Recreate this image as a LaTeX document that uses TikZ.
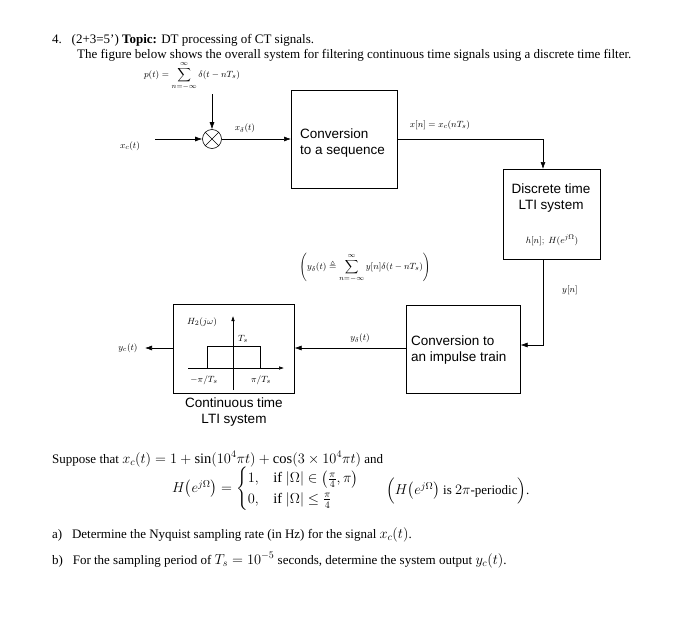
\documentclass[tikz,border=0pt]{standalone}
\usepackage{amsmath,amssymb}
\usepackage{fontspec}
\setmainfont{Liberation Serif}
\newfontfamily\sansf{Liberation Sans}
\usetikzlibrary{arrows.meta}
\begin{document}
\begin{tikzpicture}[x=1pt,y=-1pt,
  box/.style={draw,line width=0.6pt,inner sep=0pt,anchor=north west},
  btxt/.style={font=\sansf\fontsize{13.5}{16}\selectfont,align=left,inner sep=0pt},
  lab/.style={font=\fontsize{9.5}{11}\selectfont,inner sep=1pt},
  ar/.style={-{Latex[length=7pt,width=5pt]},line width=0.6pt},
  ln/.style={line width=0.6pt},
  txt/.style={font=\fontsize{13}{15}\selectfont,anchor=west,inner sep=0pt},
  mtxt/.style={font=\fontsize{14.5}{17}\selectfont,anchor=west,inner sep=0pt}]
\useasboundingbox (0,0) rectangle (680,616);
\node[txt] (t1) at (52,40) {4.\enspace\ (2+3=5')\ \textbf{Topic:} DT processing of CT signals.};
\node[txt] (t2) at (77,55) {The figure below shows the overall system for filtering continuous time signals using a discrete time filter.};
\node[lab] (p) at (192,76) {$p(t)=\displaystyle\sum_{n=-\infty}^{\infty}\delta(t-nT_s)$};
% multiplier
\node[draw,circle,minimum size=19pt,inner sep=0pt,line width=0.6pt] (m) at (212,139) {};
\draw[ln] (m.north west)--(m.south east) (m.north east)--(m.south west);
\coordinate (ptop) at (212,94);
\draw[ar] (ptop)--(m.north);
\node[lab] (xc) at (130,146) {$x_c(t)$};
\coordinate (xin) at (155,139);
\draw[ar] (xin)--(m.west);
\node[box,minimum width=106pt,minimum height=98pt] (b1) at (291,90) {};
\node[btxt,anchor=west] (b1t) at (300,143) {Conversion\\to a sequence};
\draw[ar] (m.east)--(b1.west|-m);
\node[lab] (xd) at (245,128) {$x_\delta(t)$};
\node[box,minimum width=97pt,minimum height=90pt] (b2) at (503,169) {};
\node[btxt,align=center] (b2t) at (551,198) {Discrete time\\LTI system};
\node[lab] (hn) at (552,240) {$h[n];\ H(e^{j\Omega})$};
\draw[ar] (b1.east|-m) -| (b2.north-|543,0);
\node[lab] (xn) at (440,125) {$x[n]=x_c(nT_s)$};
\node[box,minimum width=114pt,minimum height=88pt] (b3) at (406,305) {};
\node[btxt,anchor=west] (b3t) at (411,350) {Conversion to\\an impulse train};
\draw[ar] (b2.south-|543,0) |- (b3.east|-0,345);
\node[lab] (yn) at (570,290) {$y[n]$};
\node[lab] (yd) at (365,268) {$\left(y_\delta(t)\triangleq\displaystyle\sum_{n=-\infty}^{\infty}y[n]\delta(t-nT_s)\right)$};
\node[box,minimum width=121pt,minimum height=89pt] (b4) at (173,304) {};
\draw[ar] (b3.west|-0,348) -- (b4.east|-0,348);
\node[lab] (yd2) at (360,338) {$y_\delta(t)$};
\coordinate (yout) at (145,348);
\draw[ar] (b4.west|-0,348) -- (yout);
\node[lab] (yc) at (128,348) {$y_c(t)$};
% graph
\coordinate (ha0) at (188,368); \coordinate (ha1) at (284,368);
\coordinate (va0) at (233,390); \coordinate (va1) at (233,316);
\draw[-{Latex[length=5pt,width=3.5pt]},line width=0.5pt] (ha0)--(ha1);
\draw[-{Latex[length=5pt,width=3.5pt]},line width=0.5pt] (va0)--(va1);
\draw[line width=0.6pt] (207,368)--(207,346)--(260,346)--(260,368);
\node[lab] (h2) at (202,322) {$H_2(j\omega)$};
\node[lab] (ts) at (243,339) {$T_s$};
\node[lab] (mpi) at (204,380) {$-\pi/T_s$};
\node[lab] (ppi) at (261,380) {$\pi/T_s$};
\node[btxt,align=center] (b4t) at (234,412) {Continuous time\\LTI system};
% bottom text
\node[txt] (s1) at (52,459) {Suppose that {\fontsize{14.5}{17}\selectfont$x_c(t)=1+\sin(10^4\pi t)+\cos(3\times10^4\pi t)$} and};
\node[mtxt] (s2) at (172,489) {$H\bigl(e^{j\Omega}\bigr)=\begin{cases}1, & \text{if }|\Omega|\in\left(\frac{\pi}{4},\pi\right)\\ 0, & \text{if }|\Omega|\le\frac{\pi}{4}\end{cases}$};
\node[txt] (s3) at (386,491) {{\fontsize{14.5}{17}\selectfont$\Bigl(H\bigl(e^{j\Omega}\bigr)$} is {\fontsize{14.5}{17}\selectfont$2\pi$}-periodic{\fontsize{14.5}{17}\selectfont$\Bigr)$}.};
\node[txt] (a) at (52,535) {a)\enspace\ Determine the Nyquist sampling rate (in Hz) for the signal {\fontsize{14.5}{17}\selectfont$x_c(t)$}.};
\node[txt] (b) at (52,560) {b)\enspace\ For the sampling period of {\fontsize{14.5}{17}\selectfont$T_s=10^{-5}$} seconds, determine the system output {\fontsize{14.5}{17}\selectfont$y_c(t)$}.};
\end{tikzpicture}
\end{document}
